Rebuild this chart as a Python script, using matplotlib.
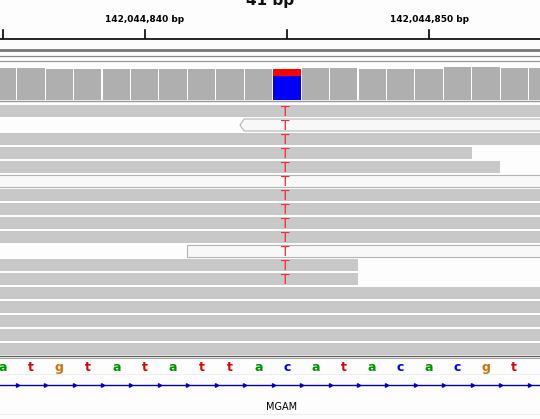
import matplotlib.pyplot as plt
from matplotlib.patches import Rectangle, Polygon

# genomic window (bp) and layout
origin = 142044000
view_start = 834.91
view_end = view_start + 540 / 28.43
tick_pos = [840, 850]
snp_pos = 845

# coverage track, one value per base 835..854
cov_bases = list(range(835, 855))
cov_counts = [54, 54, 52, 52, 52, 52, 52, 52, 52, 52, 52, 54, 54, 52, 52, 52, 55, 55, 54, 54]
snp_t_count = 12

# reference sequence
ref_seq = 'atgtatattacatacacgt'
base_colors = {'a': '#009600', 't': '#dc0000', 'c': '#0000ff', 'g': '#d17105'}

# reads: (start, end, light outlined style, arrow, shows T)
read_start = [820, 843.5, 820, 820, 820, 820, 820, 820, 820, 820, 841.5, 820, 820, 820, 820, 820, 820, 820]
read_end = [860, 860, 860, 851.5, 852.5, 860, 860, 860, 860, 860, 860, 847.5, 847.5, 860, 860, 860, 860, 860]
read_light = [0, 1, 0, 0, 0, 1, 0, 0, 0, 0, 1, 0, 0, 0, 0, 0, 0, 0]
read_arrow = [0, 1, 0, 0, 0, 0, 0, 0, 0, 0, 0, 0, 0, 0, 0, 0, 0, 0]
read_has_t = [1] * 13 + [0] * 5

fig = plt.figure(figsize=(5.4, 4.19), dpi=100, facecolor='#fdfdfd')
ax = fig.add_axes([0, 0, 1, 1])
ax.set_facecolor('#fdfdfd')
ax.set_xlim(view_start, view_end)
ax.set_ylim(419, 0)
ax.axis('off')

# ruler
ax.text((view_start + view_end) / 2, 0, '41 bp', ha='center', va='center', fontsize=11, fontweight='bold', color='#111111')
ax.plot([view_start, view_end], [39, 39], color='black', lw=1.2)
for p in [835, 840, 845, 850]:
    ax.plot([p, p], [30, 38], color='black', lw=1.2)
for p in tick_pos:
    ax.text(p, 20, f'{origin + p:,} bp', ha='center', va='center', fontsize=6.5, fontweight='bold')
ax.plot([view_start, view_end], [50, 50], color='#777777', lw=2)
ax.plot([view_start, view_end], [56.5, 56.5], color='#888888', lw=0.9)
ax.plot([view_start, view_end], [61.5, 61.5], color='#999999', lw=0.9)

# coverage
px_per_read = 31 / 52
for b, c in zip(cov_bases, cov_counts):
    h = c * px_per_read
    if b == snp_pos:
        th = snp_t_count * px_per_read
        ax.add_patch(Rectangle((b - 0.48, 100 - h), 0.96, th, color='#ff0000', lw=0))
        ax.add_patch(Rectangle((b - 0.48, 100 - h + th), 0.96, h - th, color='#0000ff', lw=0))
    else:
        ax.add_patch(Rectangle((b - 0.48, 100 - h), 0.96, h, color='#afafaf', lw=0))
ax.plot([view_start, view_end], [101.5, 101.5], color='#999999', lw=1)

# reads
for i in range(len(read_start)):
    top = 105 + 14 * i
    s, e = read_start[i], read_end[i]
    if read_light[i]:
        if read_arrow[i]:
            pts = [(s, top), (e, top), (e, top + 12), (s, top + 12), (s - 0.15, top + 6)]
        else:
            pts = [(s, top), (e, top), (e, top + 12), (s, top + 12)]
        ax.add_patch(Polygon(pts, closed=True, facecolor='#f8f8f8', edgecolor='#b4b4b4', lw=0.8))
    else:
        ax.add_patch(Rectangle((s, top), e - s, 12, facecolor='#c8c8c8', lw=0))
    if read_has_t[i]:
        ax.text(snp_pos - 0.06, top + 6.5, 'T', ha='center', va='center', fontsize=10, color='#f03030')
ax.plot([view_start, view_end], [355.5, 355.5], color='#666666', lw=1)
ax.plot([view_start, view_end], [357.5, 357.5], color='#aaaaaa', lw=0.8)

# reference sequence
for b, ch in zip(cov_bases, ref_seq):
    ax.text(b, 367, ch, ha='center', va='center', fontsize=9, fontweight='bold', color=base_colors[ch])
ax.plot([view_start, view_end], [373.5, 373.5], color='#eeeeee', lw=0.8)

# gene track
ax.plot([view_start, view_end], [385, 385], color='#0000b4', lw=1)
ax.plot([b - 0.5 for b in cov_bases], [385] * len(cov_bases), ls='none',
        marker=(3, 0, -90), markersize=3, color='#0000b4')
ax.text(view_start + 282 / 28.43, 407, 'MGAM', ha='center', va='center', fontsize=7, color='black')
ax.plot([view_start, view_end], [413.5, 413.5], color='#eeeeee', lw=0.8)

fig.savefig('out.png', dpi=100, facecolor=fig.get_facecolor())
